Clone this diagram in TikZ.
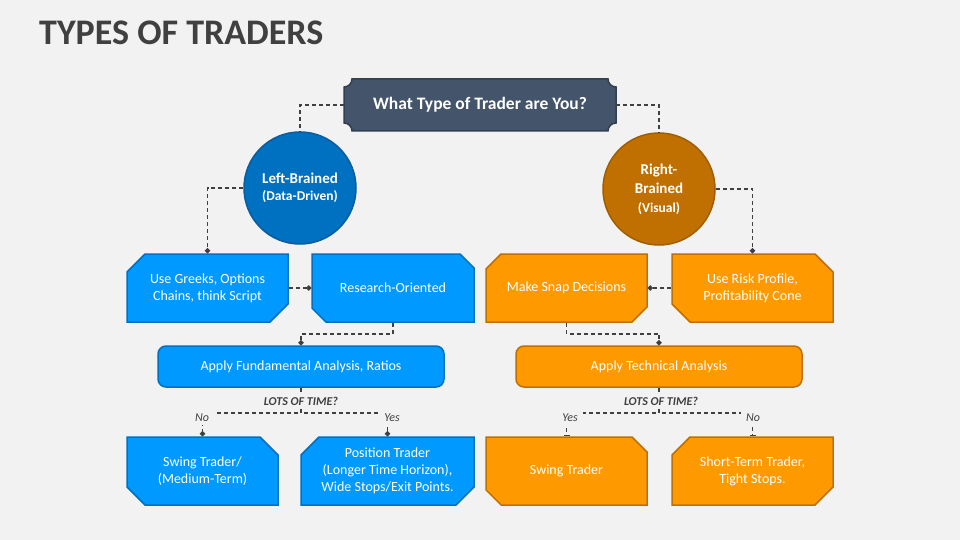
\documentclass[tikz,border=0pt]{standalone}
\usepackage{fontspec}
\setmainfont{Carlito}
\usetikzlibrary{shapes.misc,arrows.meta}

\definecolor{bgcol}{HTML}{F2F2F2}
\definecolor{titlecol}{HTML}{404040}
\definecolor{plaquecol}{HTML}{44546A}
\definecolor{plaquerim}{HTML}{333F50}
\definecolor{leftcol}{HTML}{0070C0}
\definecolor{leftrim}{HTML}{0B5C9E}
\definecolor{rightcol}{HTML}{C07000}
\definecolor{rightrim}{HTML}{A05E00}
\definecolor{bluefill}{HTML}{0099FF}
\definecolor{bluerim}{HTML}{0070C0}
\definecolor{orangefill}{HTML}{FF9900}
\definecolor{orangerim}{HTML}{C07000}
\definecolor{linecol}{HTML}{404040}

\tikzset{
	brain/.style={circle, minimum size=112pt, line width=1.5pt, text=white, align=center, inner sep=0pt, font=\fontsize{15}{18}\selectfont\bfseries},
	snip/.style={chamfered rectangle, chamfered rectangle xsep=9pt, chamfered rectangle ysep=9pt, minimum height=68pt, line width=1.5pt, text=white, align=center, inner sep=0pt, font=\fontsize{14}{17}\selectfont},
	bluesnip/.style={snip, fill=bluefill, draw=bluerim},
	orangesnip/.style={snip, fill=orangefill, draw=orangerim},
	nwse/.style={chamfered rectangle corners={north west, south east}},
	nesw/.style={chamfered rectangle corners={north east, south west}},
	apply/.style={rectangle, rounded corners=8pt, minimum width=286pt, minimum height=41pt, line width=1.5pt, text=white, inner sep=0pt, font=\fontsize{14}{17}\selectfont},
	conn/.style={draw=linecol, line width=1.5pt, dash pattern=on 4pt off 3pt},
	dotend/.style={-{Circle[length=5pt]}},
	barend/.style={-{Bar[width=6pt]}},
	ask/.style={fill=bgcol, text=linecol, inner sep=2pt, font=\fontsize{12}{14}\selectfont\bfseries\itshape},
	yn/.style={fill=bgcol, text=linecol, inner xsep=5pt, inner ysep=3pt, font=\fontsize{12}{14}\selectfont\itshape}
}

\begin{document}
\begin{tikzpicture}[x=1pt,y=1pt]
	\fill[bgcol] (0,0) rectangle (960,-540);
	\node[anchor=base west, text=titlecol, inner sep=0pt, font=\fontsize{36}{40}\selectfont\bfseries] at (39,-45) (title) {TYPES OF TRADERS};

	% question plaque
	\filldraw[fill=plaquecol, draw=plaquerim, line width=1.5pt] (352,-79) -- (608,-79) arc[start angle=180,end angle=270,radius=8] -- (616,-123) arc[start angle=90,end angle=180,radius=8] -- (352,-131) arc[start angle=0,end angle=90,radius=8] -- (344,-87) arc[start angle=270,end angle=360,radius=8] -- cycle;
	\node[minimum width=272pt, minimum height=52pt, inner sep=0pt, text=white, font=\fontsize{17.5}{20}\selectfont\bfseries] at (480,-105) (q) {What Type of Trader are You?};

	% brains
	\node[brain, fill=leftcol, draw=leftrim] at (300,-188) (lb) {Left-Brained\\[-1pt]\fontsize{13.5}{17}\selectfont (Data-Driven)};
	\node[brain, fill=rightcol, draw=rightrim] at (659,-189) (rb) {Right-\\[1pt]Brained\\[1pt]\fontsize{13.5}{17}\selectfont (Visual)};

	% second row
	\node[bluesnip, nwse, minimum width=161pt] at (207.5,-288) (greeks) {Use Greeks, Options\\Chains, think Script};
	\node[bluesnip, nesw, minimum width=162pt] at (393,-288) (research) {Research-Oriented};
	\node[orangesnip, nwse, minimum width=161pt] at (566.5,-288) (snap) {Make Snap Decisions};
	\node[orangesnip, nesw, minimum width=161pt] at (752.5,-288) (risk) {Use Risk Profile,\\Profitability Cone};

	% analysis
	\node[apply, fill=bluefill, draw=bluerim] at (301,-366.5) (fund) {Apply Fundamental Analysis, Ratios};
	\node[apply, fill=orangefill, draw=orangerim] at (659,-366.5) (tech) {Apply Technical Analysis};

	% traders
	\node[bluesnip, nesw, minimum width=151pt] at (202.5,-471) (swingl) {Swing Trader/\\(Medium-Term)};
	\node[bluesnip, nwse, minimum width=173pt] at (387.5,-471) (position) {Position Trader\\(Longer Time Horizon),\\Wide Stops/Exit Points.};
	\node[orangesnip, nesw, minimum width=161pt] at (566.5,-471) (swingr) {Swing Trader};
	\node[orangesnip, nwse, minimum width=161pt] at (752.5,-471) (short) {Short-Term Trader,\\Tight Stops.};

	% connectors
	\draw[conn] (q.west) -| (lb.north);
	\draw[conn] (q.east) -| (rb.north);
	\draw[conn, dotend] (lb.west) -| (greeks.north);
	\draw[conn, dotend] (rb.east) -| (risk.north);
	\draw[conn, dotend] (greeks.east) -- (research.west);
	\draw[conn, dotend] (risk.west) -- (snap.east);
	\draw[conn, dotend] (research.south) -- ++(0,-11) -| (fund.north);
	\draw[conn, dotend] (snap.south) -- ++(0,-11) -| (tech.north);
	\draw[conn, dotend] (fund.south) -- ++(0,-25) -| (swingl.north);
	\draw[conn, dotend] (fund.south) -- ++(0,-25) -| (position.north);
	\draw[conn, barend] (tech.south) -- ++(0,-25) -| (swingr.north);
	\draw[conn, barend] (tech.south) -- ++(0,-25) -| (short.north);

	% labels
	\node[ask] at (301,-401) (askl) {LOTS OF TIME?};
	\node[ask] at (661,-401) (askr) {LOTS OF TIME?};
	\node[yn] at (202,-418) (nol) {No};
	\node[yn] at (392,-418) (yesl) {Yes};
	\node[yn] at (570,-418) (yesr) {Yes};
	\node[yn] at (753,-418) (nor) {No};
\end{tikzpicture}
\end{document}
